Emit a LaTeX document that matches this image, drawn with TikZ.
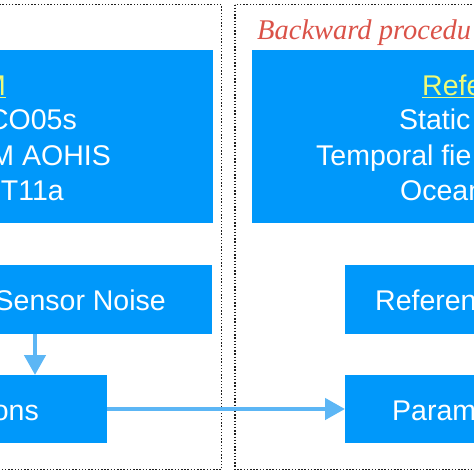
\documentclass[tikz,border=0pt]{standalone}
\usepackage{fontspec}
\setmainfont{Liberation Serif}
\setsansfont{Liberation Sans}
\usetikzlibrary{arrows.meta}
\definecolor{boxblue}{RGB}{0,152,250}
\definecolor{flowblue}{RGB}{92,182,245}
\definecolor{titleyellow}{RGB}{238,250,120}
\definecolor{procred}{RGB}{218,82,72}
\definecolor{framegray}{RGB}{30,30,30}
\begin{document}
\begin{tikzpicture}[x=1pt,y=-1pt,
  box/.style={fill=boxblue,inner sep=0pt,outer sep=0pt},
  txt/.style={text=white,font=\sffamily\fontsize{28.5}{34}\selectfont,inner sep=0pt},
  ttl/.style={txt,text=titleyellow},
  uline/.style={titleyellow,line width=1.6pt},
  flow/.style={flowblue,line width=4.5pt,-{Triangle[length=20pt,width=21pt]}},
  frame/.style={framegray,line width=1.6pt,dash pattern=on 1.5pt off 1.7pt}]
\path[use as bounding box,clip] (0,0) rectangle (474,474);
% dotted frames
\draw[frame] (-10,4.5) rectangle (221.5,469.5);
\draw[frame] (235,4.5) rectangle (490,469.5);
\node[font=\rmfamily\itshape\fontsize{28.5}{33}\selectfont,text=procred,anchor=base west,inner sep=0pt] (bwd) at (257,39) {Backward procedu};
% blue boxes
\node[box,minimum width=428pt,minimum height=173pt] (src) at (-1,136.5) {};
\node[box,minimum width=428pt,minimum height=173pt] (ref) at (466,136.5) {};
\node[box,minimum width=412pt,minimum height=69pt] (noise) at (6,299.5) {};
\node[box,minimum width=307pt,minimum height=68pt] (sim) at (-46.5,409) {};
\node[box,minimum width=355pt,minimum height=69pt] (refsp) at (522.5,299.5) {};
\node[box,minimum width=355pt,minimum height=68pt] (param) at (522.5,409) {};
% connectors
\coordinate (drop) at (35,0);
\draw[flow] (noise.south -| drop) -- (sim.north -| drop);
\draw[flow] (sim) -- (param);
% texts
\node[ttl,anchor=base east] (srctitle) at (6,95) {M};
\draw[uline] ([yshift=-2.5pt]srctitle.base west) -- ([yshift=-2.5pt]srctitle.base east);
\node[txt,anchor=base east] (src1) at (77,129) {CO05s};
\node[txt,anchor=base east] (src2) at (111,165) {M AOHIS};
\node[txt,anchor=base east] (src3) at (64,200) {T11a};
\node[ttl,anchor=base west] (reftitle) at (422,95) {Refe};
\draw[uline] ([yshift=-2.5pt]reftitle.base west) -- ([yshift=-2.5pt]reftitle.base east);
\node[txt,anchor=base west] (ref1) at (399,129) {Static};
\node[txt,anchor=base west] (ref2) at (316,165) {Temporal fie};
\node[txt,anchor=base west] (ref3) at (400,200) {Ocean};
\node[txt,anchor=base east] (noisetxt) at (166,310) {Sensor Noise};
\node[txt,anchor=base west] (refsptxt) at (375,310) {Referen};
\node[txt,anchor=base east] (simtxt) at (39,420) {ons};
\node[txt,anchor=base west] (paramtxt) at (392,420) {Param};
\end{tikzpicture}
\end{document}
